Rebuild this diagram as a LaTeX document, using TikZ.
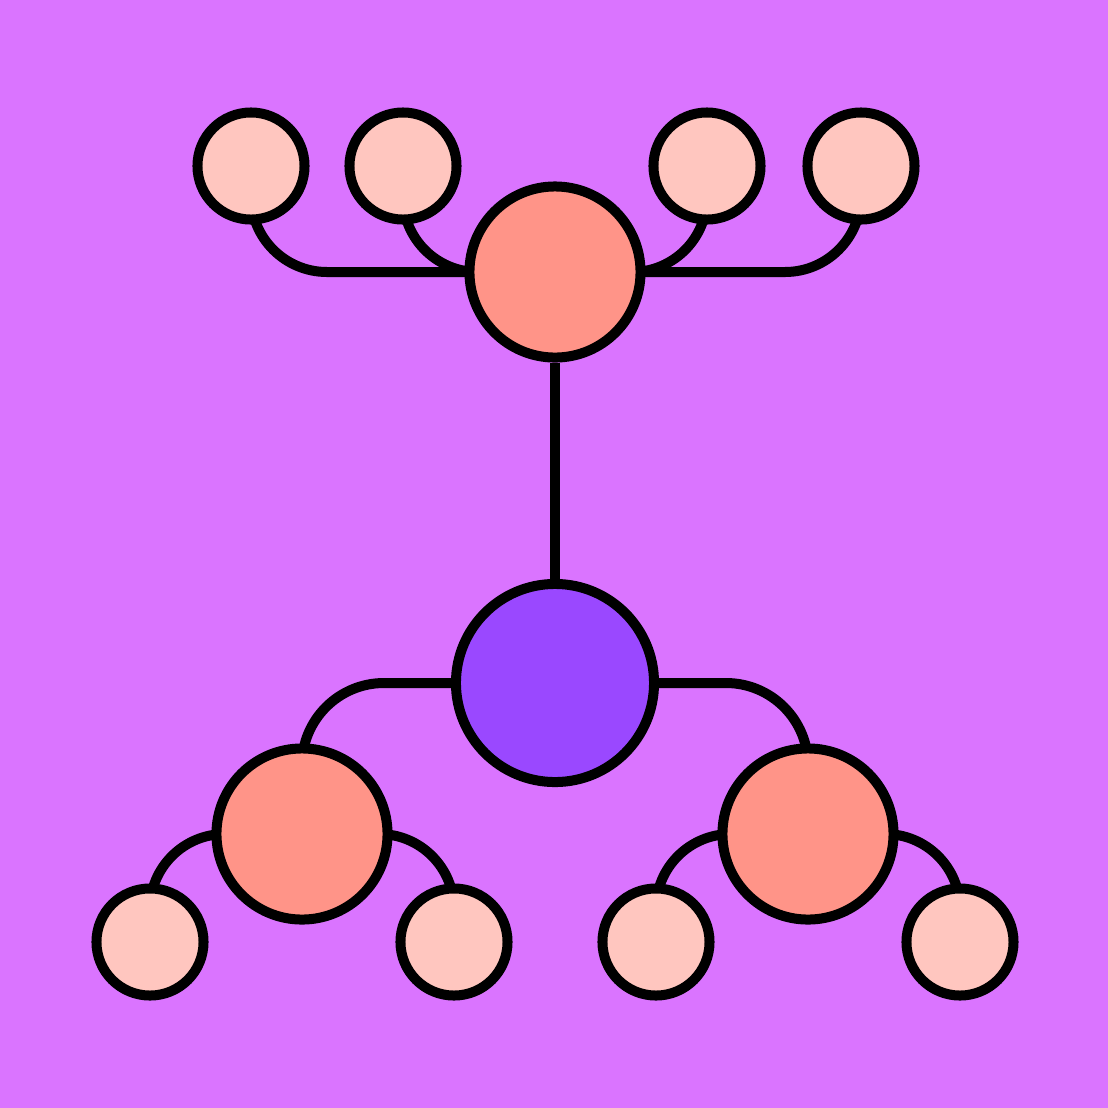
\documentclass[tikz,border=0pt]{standalone}
\usetikzlibrary{shapes}
\usetikzlibrary{backgrounds}
\RequirePackage{xcolor}
\definecolor{bgpurple}{HTML}{DA74FF}
\definecolor{peach}{HTML}{FFC6BF}
\definecolor{salmon}{HTML}{FF9488}
\definecolor{violetfill}{HTML}{9A48FF}

\begin{document}
\begin{tikzpicture}[x=0.01cm, y=-0.01cm,
    leaf/.style = {circle, draw, line width=1mm, fill=peach, minimum size=1.07cm, inner sep=0pt},
    mid/.style = {circle, draw, line width=1mm, fill=salmon, minimum size=1.71cm, inner sep=0pt},
    hubnode/.style = {circle, draw, line width=1mm, fill=violetfill, minimum size=1.98cm, inner sep=0pt},
    link/.style = {line width=1mm}]
     \useasboundingbox (0,0) rectangle (1108,1108);

     \node[mid] (top) at (555,272) {};
     \node[hubnode] (hub) at (555,683) {};
     \node[mid] (m1) at (302,834) {};
     \node[mid] (m2) at (808,834) {};
     \foreach \n/\x in {t1/251,t2/403,t3/707,t4/861}
       \node[leaf] (\n) at (\x,166) {};
     \foreach \n/\x in {b1/150,b2/454,b3/656,b4/960}
       \node[leaf] (\n) at (\x,942) {};

     \begin{pgfonlayer}{background}
     \fill[bgpurple] (0,0) rectangle (1108,1108);
     % top fan
     \draw[link, rounded corners=0.76cm] (t1.center) |- (top.center);
     \draw[link, rounded corners=0.75cm] (t2.center) |- (top.center);
     \draw[link, rounded corners=0.75cm] (t3.center) |- (top.center);
     \draw[link, rounded corners=0.76cm] (t4.center) |- (top.center);
     \draw[link] (top) -- (hub);
     % lower branches
     \draw[link, rounded corners=0.82cm] (hub.center) -| (m1.center);
     \draw[link, rounded corners=0.82cm] (hub.center) -| (m2.center);
     \draw[link, rounded corners=0.75cm] (m1.center) -| (b1.center);
     \draw[link, rounded corners=0.75cm] (m1.center) -| (b2.center);
     \draw[link, rounded corners=0.75cm] (m2.center) -| (b3.center);
     \draw[link, rounded corners=0.75cm] (m2.center) -| (b4.center);
     \end{pgfonlayer}
 \end{tikzpicture}
\end{document}
